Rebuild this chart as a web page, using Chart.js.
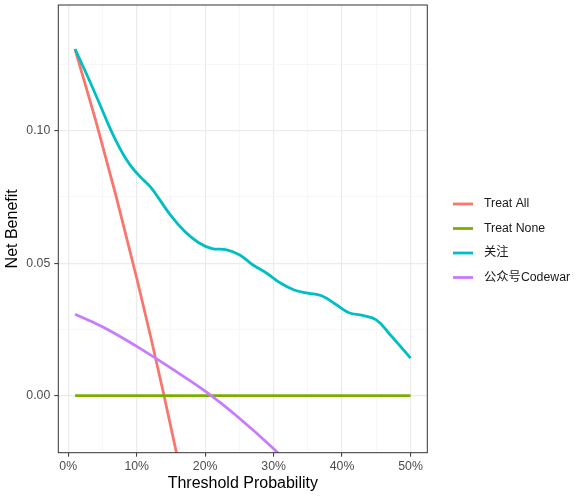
<!DOCTYPE html>
<html>
<head>
<meta charset="utf-8">
<script src="https://cdn.jsdelivr.net/npm/chart.js@4/dist/chart.umd.min.js"></script>
<style>
  html, body { margin: 0; padding: 0; background: #fff; }
  #wrap { width: 578px; height: 497px; }
</style>
</head>
<body>
<div id="wrap"><canvas id="myChart" width="578" height="497"></canvas></div>
<script>
// threshold probability in percent, net benefit values
const seriesNames = ['Treat All', 'Treat None', '关注', '公众号Codewar'];
const seriesColors = ['#F8766D', '#7CAE00', '#00BFC4', '#C77CFF'];

const treatAllX = [1, 4, 7, 10, 12, 14, 16, 18];
const treatAllY = [0.1307, 0.1040, 0.0752, 0.0444, 0.0227, 0.0000, -0.0238, -0.0488];

const treatNoneX = [1, 50];
const treatNoneY = [0, 0];

const guanzhuX = [1, 3, 5, 6, 7, 8, 9, 10, 11, 12, 13, 15, 17, 19, 21, 23, 25, 27, 29, 31, 33, 35, 37, 39, 41, 43, 45, 47, 49, 50];
const guanzhuY = [0.1308, 0.1195, 0.1076, 0.1015, 0.0960, 0.0912, 0.0872, 0.0840, 0.0814, 0.0788, 0.0753, 0.0679, 0.0620, 0.0578, 0.0555, 0.0551, 0.0532, 0.0493, 0.0462, 0.0425, 0.0399, 0.0387, 0.0377, 0.0346, 0.0313, 0.0303, 0.0286, 0.0231, 0.0172, 0.0142];

const codewarX = [1, 5, 10, 15, 20, 25, 30, 33];
const codewarY = [0.0307, 0.0260, 0.0186, 0.0104, 0.0017, -0.0085, -0.0200, -0.0280];

const xTicks = [0, 5, 10, 15, 20, 25, 30, 35, 40, 45, 50];
const yTicks = [0, 0.025, 0.05, 0.075, 0.1, 0.125];

const FONT = '"Liberation Sans", Arial, "Noto Sans CJK SC", sans-serif';

function pts(xs, ys) {
    return xs.map((x, i) => ({x: x, y: ys[i]}));
}
function xMajor(v) { return Math.round(v) % 10 === 0; }
function yMajor(v) { return Math.round(v * 1000) % 50 === 0; }

// ggplot style panel border + legend on the right
const panelAndLegend = {
    id: 'panelAndLegend',
    afterDraw(chart) {
        const c = chart.ctx;
        const a = chart.chartArea;
        c.save();
        c.strokeStyle = '#333333';
        c.lineWidth = 1;
        c.strokeRect(a.left, a.top, a.right - a.left, a.bottom - a.top);

        const ys = [204, 228.5, 253, 277.5];
        c.font = '12.3px ' + FONT;
        c.textBaseline = 'middle';
        c.textAlign = 'left';
        seriesNames.forEach((name, i) => {
            c.strokeStyle = seriesColors[i];
            c.lineWidth = 2.8;
            c.beginPath();
            c.moveTo(453, ys[i]);
            c.lineTo(473, ys[i]);
            c.stroke();
            c.fillStyle = '#1a1a1a';
            c.fillText(name, 484, ys[i]);
        });
        c.restore();
    }
};

function lineSet(i, xs, ys, order, smooth) {
    return {
        label: seriesNames[i],
        data: pts(xs, ys),
        borderColor: seriesColors[i],
        backgroundColor: seriesColors[i],
        borderWidth: 2.8,
        pointRadius: 0,
        fill: false,
        order: order,
        tension: smooth ? 0.4 : 0
    };
}

const ctx = document.getElementById('myChart').getContext('2d');
const myChart = new Chart(ctx, {
    type: 'line',
    data: {
        datasets: [
            lineSet(0, treatAllX, treatAllY, 4, false),
            lineSet(1, treatNoneX, treatNoneY, 3, false),
            lineSet(2, guanzhuX, guanzhuY, 2, true),
            lineSet(3, codewarX, codewarY, 1, true)
        ]
    },
    options: {
        responsive: false,
        animation: false,
        layout: { padding: { left: 0, top: 5, right: 150.7, bottom: 0 } },
        plugins: { legend: { display: false }, tooltip: { enabled: false } },
        scales: {
            x: {
                type: 'linear',
                min: -1.45,
                max: 52.45,
                afterBuildTicks: s => { s.ticks = xTicks.map(v => ({value: v})); },
                afterFit: s => { s.height = 44.3; s.paddingLeft = 0; s.paddingRight = 0; },
                border: { display: false },
                grid: {
                    color: c => xMajor(c.tick.value) ? '#EBEBEB' : '#F4F4F4',
                    lineWidth: c => xMajor(c.tick.value) ? 1.2 : 0.7,
                    tickColor: c => xMajor(c.tick.value) ? '#333333' : 'rgba(0,0,0,0)',
                    tickWidth: 1,
                    tickLength: 4
                },
                ticks: {
                    autoSkip: false,
                    maxRotation: 0,
                    padding: 3,
                    color: '#4D4D4D',
                    font: { family: FONT, size: 12.3 },
                    callback: v => xMajor(v) ? v + '%' : ''
                },
                title: {
                    display: true,
                    text: 'Threshold Probability',
                    color: '#000',
                    font: { family: FONT, size: 16 },
                    padding: { top: 0, bottom: 3.6 }
                }
            },
            y: {
                type: 'linear',
                min: -0.0215,
                max: 0.1474,
                afterBuildTicks: s => { s.ticks = yTicks.map(v => ({value: v})); },
                afterFit: s => { s.width = 58.3; s.paddingTop = 0; s.paddingBottom = 0; },
                border: { display: false },
                grid: {
                    color: c => yMajor(c.tick.value) ? '#EBEBEB' : '#F4F4F4',
                    lineWidth: c => yMajor(c.tick.value) ? 1.2 : 0.7,
                    tickColor: c => yMajor(c.tick.value) ? '#333333' : 'rgba(0,0,0,0)',
                    tickWidth: 1,
                    tickLength: 4
                },
                ticks: {
                    autoSkip: false,
                    padding: 4,
                    color: '#4D4D4D',
                    font: { family: FONT, size: 12.3 },
                    callback: v => yMajor(v) ? v.toFixed(2) : ''
                },
                title: {
                    display: true,
                    text: 'Net Benefit',
                    color: '#000',
                    font: { family: FONT, size: 16 },
                    padding: { top: 3.1, bottom: 0 }
                }
            }
        }
    },
    plugins: [panelAndLegend]
});
</script>
</body>
</html>
